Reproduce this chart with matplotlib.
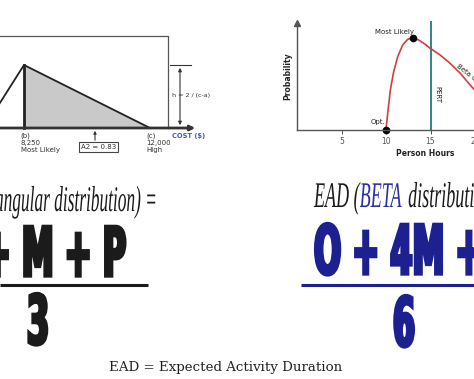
import numpy as np
import matplotlib
matplotlib.use("Agg")
import matplotlib.pyplot as plt
from matplotlib.patheffects import AbstractPathEffect
from matplotlib.transforms import Affine2D

# triangular distribution (cost)
tri_a, tri_b, tri_c = 7060, 8250, 12000
tri_labels = {"b": ["(b)", "8,250", "Most Likely"], "c": ["(c)", "12,000", "High"]}
area_label = "A2 = 0.83"

# beta curve (person hours, probability)
beta_x = [10.0, 10.19, 10.49, 10.86, 11.31, 11.87, 12.43, 13.03, 13.67, 14.42,
          14.98, 16.1, 17.2, 18.35, 19.29, 19.89, 20.6]
beta_y = [0.0, 0.156, 0.374, 0.545, 0.685, 0.794, 0.847, 0.863, 0.841, 0.80,
          0.763, 0.70, 0.623, 0.53, 0.436, 0.38, 0.32]
opt_pt = (10.0, 0.0)
ml_pt = (13.03, 0.863)
pert_x = 15
hour_ticks = [5, 10, 15, 20]

W, H = 474, 379
fig = plt.figure(figsize=(W / 100, H / 100), dpi=100)


def box(x0, y0, x1, y1):
    # pixel box (top-left origin) -> figure fraction rect
    return [x0 / W, 1 - y1 / H, (x1 - x0) / W, (y1 - y0) / H]


class Squeeze(AbstractPathEffect):
    # narrow the glyphs horizontally, optionally thicken them
    def __init__(self, sx, lw=0.0):
        super().__init__()
        self.sx = sx
        self.lw = lw

    def draw_path(self, renderer, gc, tpath, affine, rgbFace=None):
        aff = Affine2D().scale(self.sx, 1) + affine
        gc0 = renderer.new_gc()
        gc0.copy_properties(gc)
        if self.lw:
            gc0.set_linewidth(self.lw)
            gc0.set_foreground(rgbFace)
            gc0.set_joinstyle("miter")
        renderer.draw_path(gc0, tpath, aff, rgbFace)
        gc0.restore()


# ---- left: triangular distribution ----
px_per = 33.6 / 1000
x_left = tri_b - 24 / px_per
axL = fig.add_axes(box(0, 20, 200, 170))
axL.set_xlim(x_left, x_left + 200 / px_per)
axL.set_ylim(-42 / 63, 108 / 63)
axL.axis("off")

xc = lambda p: x_left + p / px_per
yc = lambda p: (128 - p) / 63

axL.fill([tri_b, tri_b, tri_c], [0, 1, 0], color="#c9c9c9", lw=0)
axL.plot([tri_a, tri_b, tri_c], [0, 1, 0], color="#222222", lw=1.3)
axL.plot([tri_b, tri_b], [0, 1], color="#222222", lw=2)
axL.annotate("", xy=(xc(198), 0), xytext=(xc(-5), 0),
             arrowprops=dict(arrowstyle="-|>", color="#333333", lw=2, mutation_scale=7))
axL.plot([xc(-5), xc(168), xc(168)], [yc(36), yc(36), 0], color="#555555", lw=0.9)
axL.annotate("", xy=(xc(180), 1), xytext=(xc(180), 0),
             arrowprops=dict(arrowstyle="<|-|>", color="#333333", lw=0.8, mutation_scale=5))
axL.plot([xc(170), xc(191)], [1, 1], color="#333333", lw=0.8)
axL.text(xc(172), yc(95), "h = 2 / (c-a)", fontsize=4.6, color="#333333", va="center")
for key, xv in (("b", tri_b), ("c", tri_c)):
    axL.text(xv - 100, yc(132), "\n".join(tri_labels[key]), fontsize=5,
             color="#333333", va="top", ha="left", linespacing=1.2)
axL.text(xc(172), yc(135.5), "COST ($)", fontsize=4.8, color="#3a5fb0",
         fontweight="bold", va="center")
axL.annotate("", xy=(xc(95), 0), xytext=(xc(95), yc(143)),
             arrowprops=dict(arrowstyle="-|>", color="#333333", lw=0.8, mutation_scale=4))
axL.text(xc(98.3), yc(147.2), area_label, fontsize=5, color="#333333",
         ha="center", va="center",
         bbox=dict(boxstyle="square,pad=0.25", fc="white", ec="#444444", lw=0.8))

# ---- right: beta distribution ----
axR = fig.add_axes(box(297, 23, 297 + 8.9 * 22, 130))
axR.set_xlim(0, 22)
axR.set_ylim(0, 1)
for s in ("top", "right"):
    axR.spines[s].set_visible(False)
for s in ("left", "bottom"):
    axR.spines[s].set_color("#555555")
    axR.spines[s].set_linewidth(1)
axR.set_yticks([])
axR.set_xticks(hour_ticks)
axR.tick_params(axis="x", length=3, width=0.7, colors="#555555", labelsize=5.5, pad=2)
axR.plot(0, 1, marker="^", color="#555555", ms=4, clip_on=False,
         transform=axR.get_yaxis_transform())
axR.plot([pert_x, pert_x], [0, 1.01], color="#2e8585", lw=1.4, clip_on=False)
axR.plot(beta_x, beta_y, color="#d23f3f", lw=1.2, clip_on=False)
axR.plot(*zip(opt_pt, ml_pt), "o", color="black", ms=4.5, clip_on=False)
axR.text(10.9, 0.916, "Most Likely", fontsize=5, ha="center", va="center", color="#222222")
axR.text(9.1, 0.075, "Opt.", fontsize=5, ha="center", va="center", color="#222222")
axR.text(15.75, 0.33, "PERT", fontsize=5, rotation=-90, ha="center", va="center", color="#222222")
axR.text(17.95, 0.6, "Beta distribution", fontsize=5, rotation=-38, ha="left", va="center",
         rotation_mode="anchor", color="#222222")
axR.text(-0.045, 0.5, "Probability", transform=axR.transAxes, rotation=90,
         fontsize=5.5, fontweight="bold", ha="center", va="center", color="#222222")
axR.text(14.4, -0.215, "Person Hours", transform=axR.get_xaxis_transform(),
         fontsize=5.5, fontweight="bold", ha="center", va="center", color="#222222")

# ---- formulas ----
ax0 = fig.add_axes([0, 0, 1, 1], zorder=-1)
ax0.set_xlim(0, W)
ax0.set_ylim(H, 0)
ax0.axis("off")

fig.canvas.draw()
rend = fig.canvas.get_renderer()

navy = "#1d2190"
ink = "#1b1b1b"
big = dict(family="DejaVu Sans", fontweight="bold", fontsize=49)
ital = dict(family="Liberation Serif", style="italic", fontsize=26)


def squeezed(x, y, s, ha, sx, lw, **kw):
    t = ax0.text(0, y, s, ha="left", va="baseline", **kw)
    w = t.get_window_extent(rend).width * sx
    x0 = {"left": x, "center": x - w / 2, "right": x - w}[ha]
    t.set_x(x0)
    t.set_path_effects([Squeeze(sx, lw)])
    return x0 + w


squeezed(157, 211, "(Triangular distribution) =", "right", 0.48, 0, color=ink, **ital)
squeezed(126, 276, "O + M + P", "right", 0.47, 2.4, color=ink, **big)
squeezed(38, 344, "3", "center", 0.47, 2.4, color=ink, **big)
ax0.plot([0, 148], [285, 285], color=ink, lw=2.2, solid_capstyle="butt")

xr = squeezed(314, 207, "EAD (", "left", 0.5, 0, color=ink, **ital)
xr = squeezed(xr, 207, "BETA", "left", 0.5, 0, color="#2b2fa6", **ital)
squeezed(xr + 2, 207, " distribution) =", "left", 0.5, 0, color=ink, **ital)
squeezed(314, 274, "O + 4M + P", "left", 0.47, 2.4, color=navy, **big)
squeezed(404, 346, "6", "center", 0.47, 2.4, color=navy, **big)
ax0.plot([301, 480], [285, 285], color=navy, lw=2.2, solid_capstyle="butt")

ax0.text(226, 371.5, "EAD = Expected Activity Duration", family="DejaVu Serif",
         fontsize=9.6, ha="center", va="baseline", color="#222222")

fig.savefig("out.png", dpi=100)
